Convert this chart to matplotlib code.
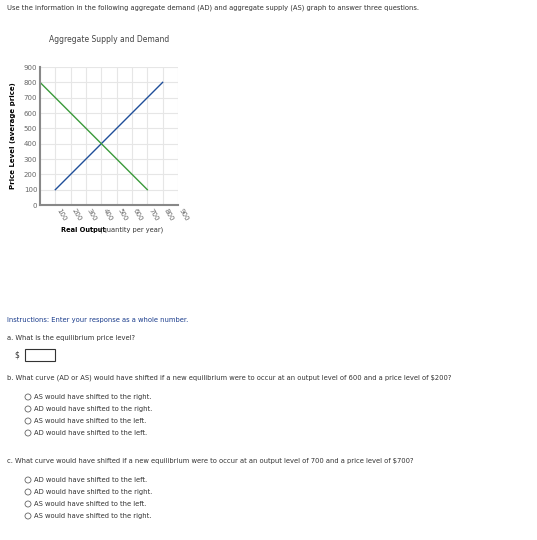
import matplotlib.pyplot as plt
from matplotlib.patches import Rectangle, Circle

W, H = 537, 540
as_x = [100, 800]
as_y = [100, 800]
ad_x = [0, 700]
ad_y = [800, 100]
ticks = [100, 200, 300, 400, 500, 600, 700, 800, 900]
yticks = [0, 100, 200, 300, 400, 500, 600, 700, 800, 900]

fig = plt.figure(figsize=(W / 100, H / 100), dpi=100)
# page overlay in pixel coords
page = fig.add_axes([0, 0, 1, 1])
page.set_xlim(0, W)
page.set_ylim(H, 0)
page.axis('off')

ax = fig.add_axes([40 / W, 1 - 205 / H, 138 / W, 138 / H])
ax.plot(as_x, as_y, color='#1f4e99', lw=1)
ax.plot(ad_x, ad_y, color='#3a9a3a', lw=1)
ax.set_xlim(0, 900)
ax.set_ylim(0, 900)
ax.set_xticks(ticks)
ax.set_xticklabels([str(t) for t in ticks], rotation=-60, fontsize=5, color='#666', ha='left')
ax.set_yticks(yticks)
ax.set_yticklabels([str(t) for t in yticks], fontsize=5, color='#666')
ax.tick_params(length=0, pad=2)
ax.grid(color='#e6e6e6', lw=0.8)
for s in ['top', 'right']:
    ax.spines[s].set_visible(False)
for s in ['left', 'bottom']:
    ax.spines[s].set_color('#888')
    ax.spines[s].set_linewidth(1.5)

page.text(109, 39, 'Aggregate Supply and Demand', fontsize=5.5, color='#444', ha='center', va='center')
page.text(61, 230, 'Real Output', fontsize=4.8, fontweight='bold', ha='left', va='center')
page.text(100, 230, '(quantity per year)', fontsize=4.8, ha='left', va='center', color='#333')
page.text(13, 136, 'Price Level (average price)', fontsize=5, rotation=90, ha='center', va='center', fontweight='bold')

tc = '#333'
fs = 4.9
page.text(7, 8, 'Use the information in the following aggregate demand (AD) and aggregate supply (AS) graph to answer three questions.', fontsize=fs, color=tc, va='center')
page.text(7, 320, 'Instructions: Enter your response as a whole number.', fontsize=fs, color='#1a3c8c', va='center')
page.text(7, 338, 'a. What is the equilibrium price level?', fontsize=fs, color=tc, va='center')
page.text(14, 355, '$', fontsize=5.5, color=tc, va='center')
page.add_patch(Rectangle((25, 349), 30, 12, fill=False, ec='#333', lw=0.8))
page.text(7, 378, 'b. What curve (AD or AS) would have shifted if a new equilibrium were to occur at an output level of 600 and a price level of $200?', fontsize=fs, color=tc, va='center')
opts_b = ['AS would have shifted to the right.', 'AD would have shifted to the right.',
          'AS would have shifted to the left.', 'AD would have shifted to the left.']
opts_c = ['AD would have shifted to the left.', 'AD would have shifted to the right.',
          'AS would have shifted to the left.', 'AS would have shifted to the right.']
for i, o in enumerate(opts_b):
    y = 397 + i * 12
    page.add_patch(Circle((28, y), 3, fill=False, ec='#666', lw=0.6))
    page.text(34, y, o, fontsize=fs, color=tc, va='center')
page.text(7, 461, 'c. What curve would have shifted if a new equilibrium were to occur at an output level of 700 and a price level of $700?', fontsize=fs, color=tc, va='center')
for i, o in enumerate(opts_c):
    y = 480 + i * 12
    page.add_patch(Circle((28, y), 3, fill=False, ec='#666', lw=0.6))
    page.text(34, y, o, fontsize=fs, color=tc, va='center')

fig.savefig('out.png', dpi=100)
